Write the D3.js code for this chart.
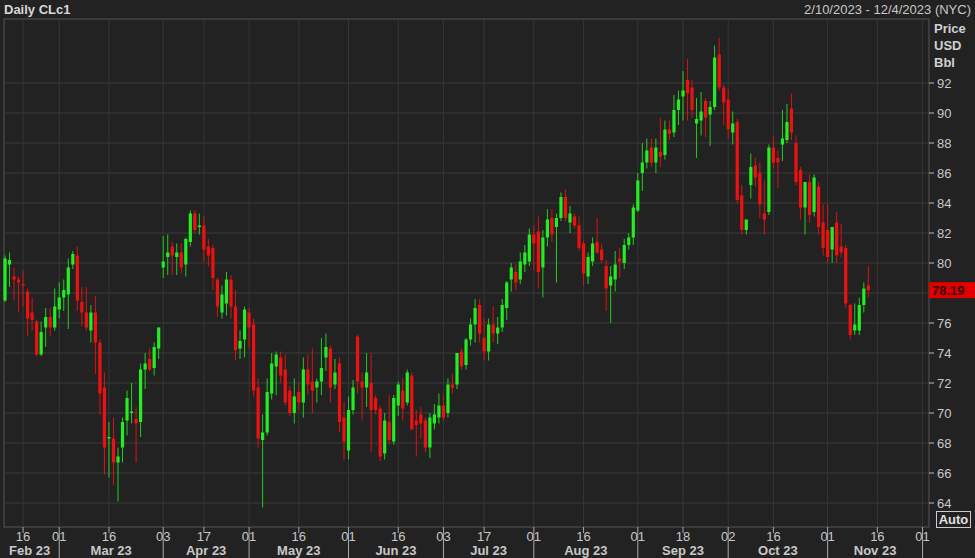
<!DOCTYPE html>
<html><head><meta charset="utf-8">
<script src="https://cdn.jsdelivr.net/npm/d3@7"></script>
<style>
html,body{margin:0;padding:0;background:#222222;}
svg{display:block;}
text{font-family:"Liberation Sans Narrow","Arial Narrow","Liberation Sans",sans-serif;}
</style></head><body>
<svg id="c" width="975" height="558"></svg>
<script>
// ---- data ----
const startDate = "2023-02-10", endDate = "2023-12-04";
const holidays = ["2023-02-20","2023-04-07","2023-05-29","2023-06-19","2023-07-04","2023-09-04","2023-11-23"];
const open = [77.5,79.9,79.1,78.9,78.6,78.1,76.7,76.1,73.9,75.7,76.4,75.7,76.9,77.7,77.9,79.9,80.5,77.4,76.7,75.5,
76.7,74.7,71.7,68.3,68.3,66.7,67.7,69.5,70.0,69.6,69.4,72.9,73.6,73.0,74.3,79.7,80.4,81.1,80.4,80.7,
79.9,81.4,83.3,82.4,82.5,81.1,81.0,78.9,76.7,77.3,78.9,77.1,74.3,74.9,76.7,75.9,71.7,68.2,68.7,71.3,
73.1,73.7,72.9,71.5,70.0,71.4,70.7,72.9,72.1,71.7,72.1,73.7,74.3,71.9,73.3,69.7,67.5,70.2,75.1,72.1,
71.7,72.0,71.0,70.3,67.3,69.4,68.1,70.5,71.5,70.7,72.5,69.5,69.9,69.5,67.7,69.3,69.7,70.5,70.0,71.9,
71.9,74.1,73.2,74.9,75.9,77.2,75.0,74.1,75.9,75.3,75.7,77.0,78.9,79.4,78.9,79.9,80.1,81.9,82.1,79.7,
81.7,83.0,82.4,83.0,84.4,82.7,83.1,82.5,81.3,79.1,80.1,81.4,80.9,79.8,78.5,78.9,80.3,80.0,81.2,81.7,
83.5,86.0,86.7,87.7,86.7,87.4,87.2,88.9,88.7,90.2,91.1,92.2,91.7,89.3,89.5,90.8,89.9,90.4,93.9,91.7,
90.9,88.7,89.4,84.5,82.2,85.2,86.5,86.0,83.3,83.4,87.7,87.0,87.9,88.2,90.3,88.0,86.2,83.7,85.4,83.4,
85.1,82.7,82.2,80.9,82.7,81.1,81.0,77.2,75.5,75.5,77.2,78.5];
const high = [80.5,80.7,79.7,79.1,79.5,78.3,77.7,76.2,76.1,77.0,77.0,78.3,78.7,78.9,80.3,80.8,81.1,78.4,78.4,77.2,
77.8,74.9,72.7,69.4,69.7,67.7,69.7,71.5,72.0,70.4,73.3,74.0,74.3,74.7,75.7,81.8,81.9,81.4,81.3,81.3,
81.7,83.5,83.5,83.3,83.1,81.6,81.2,79.0,78.5,79.4,79.2,78.2,75.5,77.1,77.0,76.3,72.3,69.9,72.3,74.0,
74.1,74.1,73.9,71.8,72.3,72.0,73.7,73.9,74.3,72.3,75.0,75.3,74.5,73.6,73.7,70.7,71.1,72.2,75.2,72.7,
74.0,74.0,71.2,70.5,70.0,71.2,71.2,72.1,72.3,72.9,72.7,70.2,70.4,69.7,70.0,70.6,71.3,71.2,72.3,72.6,
74.0,74.3,75.0,76.3,77.6,77.6,76.3,76.3,77.1,76.4,77.6,78.8,80.0,79.9,80.7,81.2,82.3,82.5,83.1,82.2,
83.6,83.6,83.3,84.7,84.9,83.8,83.3,83.1,81.5,80.7,81.7,83.0,81.3,80.2,79.8,80.8,81.0,81.6,82.0,83.9,
86.0,88.0,88.3,88.3,88.3,89.7,89.5,89.5,91.2,91.5,92.8,93.6,92.2,91.0,91.4,91.0,90.8,94.5,95.0,91.9,
91.6,90.1,89.6,85.2,82.9,87.3,87.0,86.7,85.5,87.9,88.5,87.5,90.2,90.6,91.3,88.5,86.4,84.2,85.9,85.9,
85.4,83.9,83.9,81.3,83.4,82.6,81.2,77.3,77.3,77.7,78.7,79.8];
const low = [77.4,78.4,77.5,76.7,77.1,75.1,75.5,73.8,73.8,74.4,75.1,75.5,76.3,76.8,75.6,79.6,76.8,75.8,75.5,74.7,
72.6,69.9,65.9,65.7,65.2,64.1,66.7,68.5,69.3,66.7,68.4,71.6,72.8,72.5,73.6,79.0,79.2,79.2,79.2,79.3,
79.1,81.1,82.0,81.9,80.1,79.8,78.2,76.4,76.3,76.5,76.3,73.5,73.6,73.7,74.3,71.1,67.7,63.7,68.5,70.9,
71.2,72.0,70.5,69.8,69.3,70.2,69.7,71.2,70.0,70.7,71.2,72.8,70.7,71.6,68.7,66.9,66.9,69.9,71.3,69.5,
70.4,67.4,69.9,66.8,66.9,67.9,67.9,69.8,69.5,70.5,68.9,67.1,68.3,67.4,67.0,68.9,69.3,69.5,69.7,71.3,
71.6,72.9,72.9,74.5,74.7,74.7,73.5,73.5,74.7,74.6,75.4,76.2,78.1,78.2,78.6,79.4,79.8,79.5,78.3,77.7,
81.1,81.4,78.7,82.8,82.8,82.0,82.3,80.8,78.5,78.6,79.8,80.6,80.0,76.8,76.0,78.1,79.0,79.6,80.9,81.2,
83.4,84.8,86.3,86.4,86.0,86.4,86.9,88.2,88.4,89.2,89.5,89.5,89.7,87.0,88.5,88.4,87.8,90.2,91.5,89.2,
88.3,87.9,84.0,81.9,81.9,84.3,85.1,83.0,81.9,83.2,86.3,85.0,86.8,88.0,88.2,85.2,82.9,81.9,82.7,83.1,
81.9,80.5,80.0,80.0,80.0,80.4,77.0,74.9,75.2,75.2,76.7,77.7];
const close = [80.3,80.2,78.9,78.7,78.5,76.3,76.2,73.9,75.4,76.4,75.7,77.1,77.7,78.2,79.7,80.6,77.5,76.7,75.7,76.7,
74.7,71.3,67.7,68.4,66.7,67.1,69.4,71.0,70.1,69.3,72.9,73.3,72.9,74.4,75.7,80.1,80.7,80.5,80.7,79.7,
81.6,83.3,82.2,82.5,80.9,80.5,79.0,77.1,77.9,78.9,77.1,74.2,74.8,76.9,75.7,71.5,68.3,68.7,71.4,73.3,
73.9,72.5,70.7,70.0,71.1,70.7,72.9,71.9,71.5,72.1,73.0,74.4,71.7,72.7,69.4,68.1,70.2,71.7,72.1,71.7,
72.7,70.2,70.2,67.1,69.5,68.2,71.0,71.9,70.3,72.7,68.9,69.2,69.3,67.7,69.7,69.9,70.5,69.7,71.9,71.7,
74.0,73.1,74.9,75.9,77.0,75.3,74.1,75.9,75.3,75.7,77.2,78.7,79.7,78.7,80.1,80.7,81.9,81.3,79.4,81.7,
82.9,81.9,83.0,84.4,83.0,83.3,82.5,81.0,79.3,80.4,81.3,80.7,80.2,78.3,79.1,79.9,80.1,81.2,81.7,83.7,
85.5,86.7,87.5,86.7,87.7,87.1,88.9,88.6,90.2,90.9,91.5,91.3,90.2,89.6,90.1,89.7,90.4,93.7,91.7,90.7,
88.9,89.3,84.2,82.2,82.9,86.4,85.7,83.9,82.9,87.7,86.7,86.7,88.3,89.4,88.7,85.4,83.7,85.4,83.2,85.7,
82.4,81.0,80.4,82.4,80.5,80.7,77.3,75.2,75.9,77.2,78.3,78.19];
const dayTargets = ["2023-02-16","2023-03-01","2023-03-16","2023-04-01","2023-04-16","2023-05-01","2023-05-16","2023-06-01","2023-06-16","2023-07-01","2023-07-16","2023-08-01","2023-08-16","2023-09-01","2023-09-16","2023-10-01","2023-10-16","2023-11-01","2023-11-16","2023-12-01"];
const monthLabels = ["Feb 23","Mar 23","Apr 23","May 23","Jun 23","Jul 23","Aug 23","Sep 23","Oct 23","Nov 23"];
const yTicks = [64,66,68,70,72,74,76,78,80,82,84,86,88,90,92];

// ---- build trading-day axis ----
const fmt = d3.timeFormat("%Y-%m-%d"), parse = d3.timeParse("%Y-%m-%d");
const days = d3.timeDay.range(parse(startDate), d3.timeDay.offset(parse(endDate),1))
  .filter(d => d.getDay()!==0 && d.getDay()!==6 && !holidays.includes(fmt(d)));
const dayStr = days.map(fmt);

const svg = d3.select("#c");
const L=4, T=19, R=929, B=527;
const x = d3.scaleLinear().domain([0, days.length-1]).range([5, 5+4.52*(days.length-1)]);
const y = d3.scaleLinear().domain([64,92]).range([503,83]);
const last = close[close.length-1];

svg.append("rect").attr("x",L).attr("y",T).attr("width",R-L).attr("height",B-T).attr("fill","#222222").attr("stroke","#555").attr("stroke-width",1);

// grid
svg.append("g").selectAll("line").data(yTicks).join("line")
  .attr("x1",L).attr("x2",R).attr("y1",d=>y(d)).attr("y2",d=>y(d))
  .attr("stroke","#3a3a3a").attr("stroke-width",1);

const tickIdx = dayTargets.map(t => dayStr.findIndex(s => s >= t));
svg.append("g").selectAll("line").data(tickIdx).join("line")
  .attr("x1",d=>x(d)).attr("x2",d=>x(d)).attr("y1",T).attr("y2",B)
  .attr("stroke","#363636").attr("stroke-width",1);

// candles
const idx = d3.range(close.length);
const g = svg.append("g");
g.selectAll("line.w").data(idx).join("line").attr("class","w")
  .attr("x1",i=>x(i)).attr("x2",i=>x(i)).attr("y1",i=>y(high[i])).attr("y2",i=>y(low[i]))
  .attr("stroke",i=>close[i]>=open[i]?"#22cc22":"#dd1111").attr("stroke-width",1);
g.selectAll("rect.b").data(idx).join("rect").attr("class","b")
  .attr("x",i=>x(i)-1.6).attr("width",3.2)
  .attr("y",i=>y(Math.max(open[i],close[i])))
  .attr("height",i=>Math.max(1.5, Math.abs(y(open[i])-y(close[i]))))
  .attr("fill",i=>close[i]>=open[i]?"#22ee22":"#ee1111");

// right axis
const ya = svg.append("g");
ya.selectAll("line").data(yTicks).join("line").attr("x1",R).attr("x2",R+5).attr("y1",d=>y(d)).attr("y2",d=>y(d)).attr("stroke","#bbb");
ya.selectAll("text").data(yTicks.filter(d=>Math.abs(d-last)>1)).join("text").attr("x",R+8).attr("y",d=>y(d)+5)
  .attr("fill","#c8c8c8").attr("font-size",13).text(d=>d);
["Price","USD","Bbl"].forEach((t,k)=>svg.append("text").attr("x",934).attr("y",33+k*17).attr("fill","#d0d0d0").attr("font-size",13).attr("font-weight","bold").text(t));

// last price label
svg.append("rect").attr("x",R).attr("y",y(last)-8).attr("width",46).attr("height",16).attr("fill","#e00000");
svg.append("text").attr("x",R+3).attr("y",y(last)+5).attr("fill","#3a0000").attr("font-size",13).attr("font-weight","bold").text(last.toFixed(2));

// auto box
svg.append("rect").attr("x",936.5).attr("y",511.5).attr("width",34).attr("height",16).attr("fill","none").attr("stroke","#ccc");
svg.append("text").attr("x",953.5).attr("y",524).attr("text-anchor","middle").attr("fill","#e0e0e0").attr("font-size",13).attr("font-weight","bold").text("Auto");

// x axis
const xa = svg.append("g");
xa.selectAll("line").data(tickIdx).join("line")
  .attr("x1",d=>x(d)).attr("x2",d=>x(d)).attr("y1",B)
  .attr("y2",(d,k)=>dayTargets[k].endsWith("-01")?558:533).attr("stroke","#aaa");
xa.selectAll("text").data(tickIdx).join("text")
  .attr("x",d=>x(d)).attr("y",541).attr("text-anchor","middle").attr("fill","#c8c8c8").attr("font-size",13)
  .text(d=>dayStr[d].slice(8));
const seps = [0].concat(tickIdx.filter((d,k)=>dayTargets[k].endsWith("-01")).map(d=>x(d)));
svg.append("g").selectAll("text").data(monthLabels).join("text")
  .attr("x",(d,k)=>(seps[k]+seps[k+1])/2).attr("y",555).attr("text-anchor","middle")
  .attr("fill","#c8c8c8").attr("font-size",13).attr("font-weight","bold").text(d=>d);

// header
svg.append("text").attr("x",4).attr("y",14).attr("fill","#d8d8d8").attr("font-size",13).attr("font-weight","bold").text("Daily CLc1");
svg.append("text").attr("x",971).attr("y",14).attr("text-anchor","end").attr("fill","#c8c8c8").attr("font-size",13).text("2/10/2023 - 12/4/2023 (NYC)");
</script></body></html>
